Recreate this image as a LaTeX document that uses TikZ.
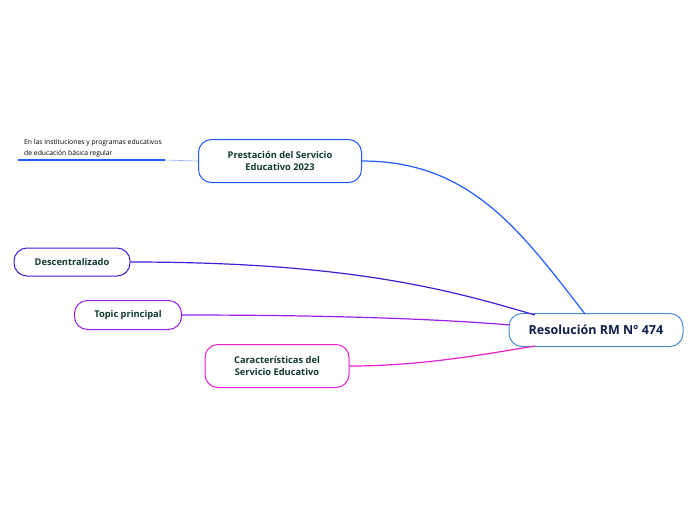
\documentclass[tikz,border=0pt]{standalone}
\usepackage{fontspec}
\setmainfont{Open Sans}
\definecolor{cA}{HTML}{1F5BFF}
\definecolor{cB}{HTML}{3A1FD8}
\definecolor{cC}{HTML}{9A1FE6}
\definecolor{cD}{HTML}{E81FD0}
\definecolor{cR}{HTML}{4A90D0}
\definecolor{tg}{HTML}{0F3A2A}
\definecolor{tn}{HTML}{0E1E4A}
\begin{document}
\begin{tikzpicture}[x=1pt,y=-1pt,
  topic/.style={draw,line width=1pt,rounded corners=13pt,fill=white,align=center,font=\bfseries\fontsize{9.3}{12.5}\selectfont,text=tg,inner sep=0pt},
  link/.style={line width=1.2pt}]
\useasboundingbox (0,0) rectangle (696,520);
\node[topic,draw=cR,text=tn,minimum width=174pt,minimum height=33pt,font=\bfseries\fontsize{12.5}{14}\selectfont] (root) at (596,330) {Resolución RM N° 474};
\node[topic,draw=cA,minimum width=163pt,minimum height=43pt] (pre) at (280,161) {Prestación del Servicio\\Educativo 2023};
\node[topic,draw=cB,minimum width=116pt,minimum height=28pt] (des) at (72,262) {Descentralizado};
\node[topic,draw=cC,minimum width=107pt,minimum height=29pt] (top) at (128,315) {Topic principal};
\node[topic,draw=cD,minimum width=144pt,minimum height=43pt] (car) at (277,366) {Características del\\Servicio Educativo};
\node[anchor=north west,align=left,font=\fontsize{6.8}{11.5}\selectfont,inner sep=0pt] (leaf) at (24,139) {En las instituciones y programas educativos\\de educación básica regular};
\coordinate (l1) at (18,160);
\coordinate (l2) at (165,160);
\draw[cA,line width=1.6pt] (l1) -- (l2);
\draw[cA!50,line width=0.6pt] (l2) -- (pre.west);
\draw[cA,link] (pre.east) .. controls (470,161) and (520,230) .. (585,314);
\draw[cB,link] (des.east) .. controls (350,262) and (450,290) .. (535,315);
\draw[cC,link] (top.east) .. controls (350,315) and (450,320) .. (510,325);
\draw[cD,link] (car.east) .. controls (420,366) and (480,355) .. (535,346);
\end{tikzpicture}
\end{document}
